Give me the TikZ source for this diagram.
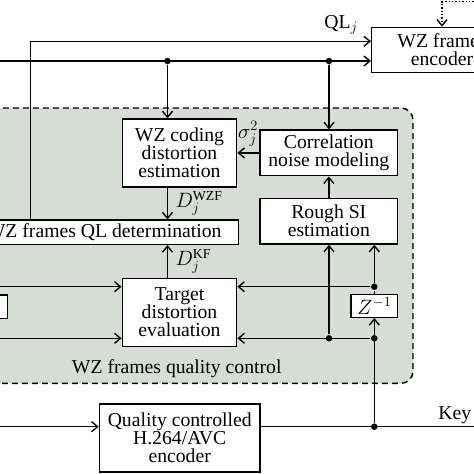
\documentclass[tikz,border=0pt]{standalone}
\usepackage{fontspec}
\setmainfont{Liberation Serif}
\usetikzlibrary{arrows.meta}
\definecolor{ctrlgray}{RGB}{216,220,214}

\begin{document}
\begin{tikzpicture}[x=1pt,y=-1pt,line width=1.4pt,
        >={Straight Barb[length=6pt,width=10pt]},
        font=\fontsize{19.7}{18}\selectfont,
        block/.style={draw,fill=white,align=center,inner sep=0pt},
        dot/.style={circle,fill,inner sep=0pt,minimum size=6.5pt}]
            \path[use as bounding box,clip] (0,0) rectangle (474,474);
            \fill[white] (0,0) rectangle (474,474);
            \draw[dash pattern=on 6pt off 4pt,fill=ctrlgray,rounded corners=12pt] (-20,108) rectangle (413,383.3);
            \node[anchor=base] (qclab) at (176.7,373.3) {WZ frames quality control};

            \node[block,minimum width=140.6,minimum height=45.4] (wzenc) at (442,50) {WZ frames\\encoder};
            \node[block,minimum width=114.4,minimum height=68] (wzcod) at (179.5,153) {WZ coding\\distortion\\estimation};
            \node[block,minimum width=137.7,minimum height=45.7] (cnm) at (328.8,152.9) {Correlation\\noise modeling};
            \node[block,minimum width=268.3,minimum height=24.3] (qldet) at (104.2,232.2) {WZ frames QL determination};
            \node[block,minimum width=137.7,minimum height=45.7] (rsi) at (328.8,221.2) {Rough SI\\estimation};
            \node[block,minimum width=114.4,minimum height=68.4] (tde) at (179.5,312.5) {Target\\distortion\\evaluation};
            \node[block,minimum width=57.4,minimum height=23.3] (lbox) at (-21.4,306.7) {};
            \node[block,minimum width=46.7,minimum height=23] (zinv) at (374.3,305.8) {$Z^{-1}$};
            \node[block,minimum width=160.7,minimum height=68] (qce) at (179.7,438) {Quality controlled\\H.264/AVC\\encoder};

            \coordinate (qlup) at (30.7,41.3);
            \coordinate (inl) at (-10,61);
            \coordinate (lin1) at (-10,286.7);
            \coordinate (lin2) at (-10,338.3);
            \coordinate (lin3) at (-10,426.7);
            \coordinate (keyend) at (484,426.7);
            \coordinate (dotin) at (484,1.5);
            \node[dot] (d1) at (167.5,61) {};
            \node[dot] (d2) at (329,61) {};
            \node[dot] (e1) at (374.3,286.7) {};
            \node[dot] (e2) at (374.3,338.3) {};
            \node[dot] (e3) at (329,338.3) {};
            \node[dot] (keydot) at (374.3,426.7) {};

            \draw[->] (qlup |- qldet.north) -- (qlup) -- (qlup -| wzenc.west);
            \node[anchor=base,inner sep=0pt] (qllab) at (341,28) {QL$_j$};
            \draw[->] (inl) -- (inl -| wzenc.west);
            \draw[dotted,->] (dotin) -| (wzenc.north);
            \draw[->] (d1) -- (d1 |- wzcod.north);
            \draw[->] (d2) -- (d2 |- cnm.north);
            \draw[->] (cnm.west) -- (cnm.west -| wzcod.east);
            \node (sig) at (248,134) {$\sigma_j^2$};
            \draw[->] (d1 |- wzcod.south) -- node[right=4pt] (dwzf) {$D_j^{\mathrm{WZF}}$} (d1 |- qldet.north);
            \draw[->] (d1 |- tde.north) -- node[right=4pt] (dkf) {$D_j^{\mathrm{KF}}$} (d1 |- qldet.south);
            \draw[->] (rsi.north) -- (cnm.south);
            \draw[->] (lin1) -- (lin1 -| tde.west);
            \draw[->] (lin2) -- (lin2 -| tde.west);
            \draw[->] (keydot) -- (zinv.south);
            \draw (zinv) -- (e1);
            \draw[->] (e1) -- (e1 |- rsi.south);
            \draw[->] (e1) -- (e1 -| tde.east);
            \draw[->] (e2) -- (e2 -| tde.east);
            \draw[->] (e3) -- (e3 |- rsi.south);
            \draw[->] (lin3) -- (lin3 -| qce.west);
            \draw (lin3 -| qce.east) -- (keyend);
            \node[anchor=base east,inner sep=0pt] (key) at (472,419.3) {Key};
        \end{tikzpicture}
\end{document}
